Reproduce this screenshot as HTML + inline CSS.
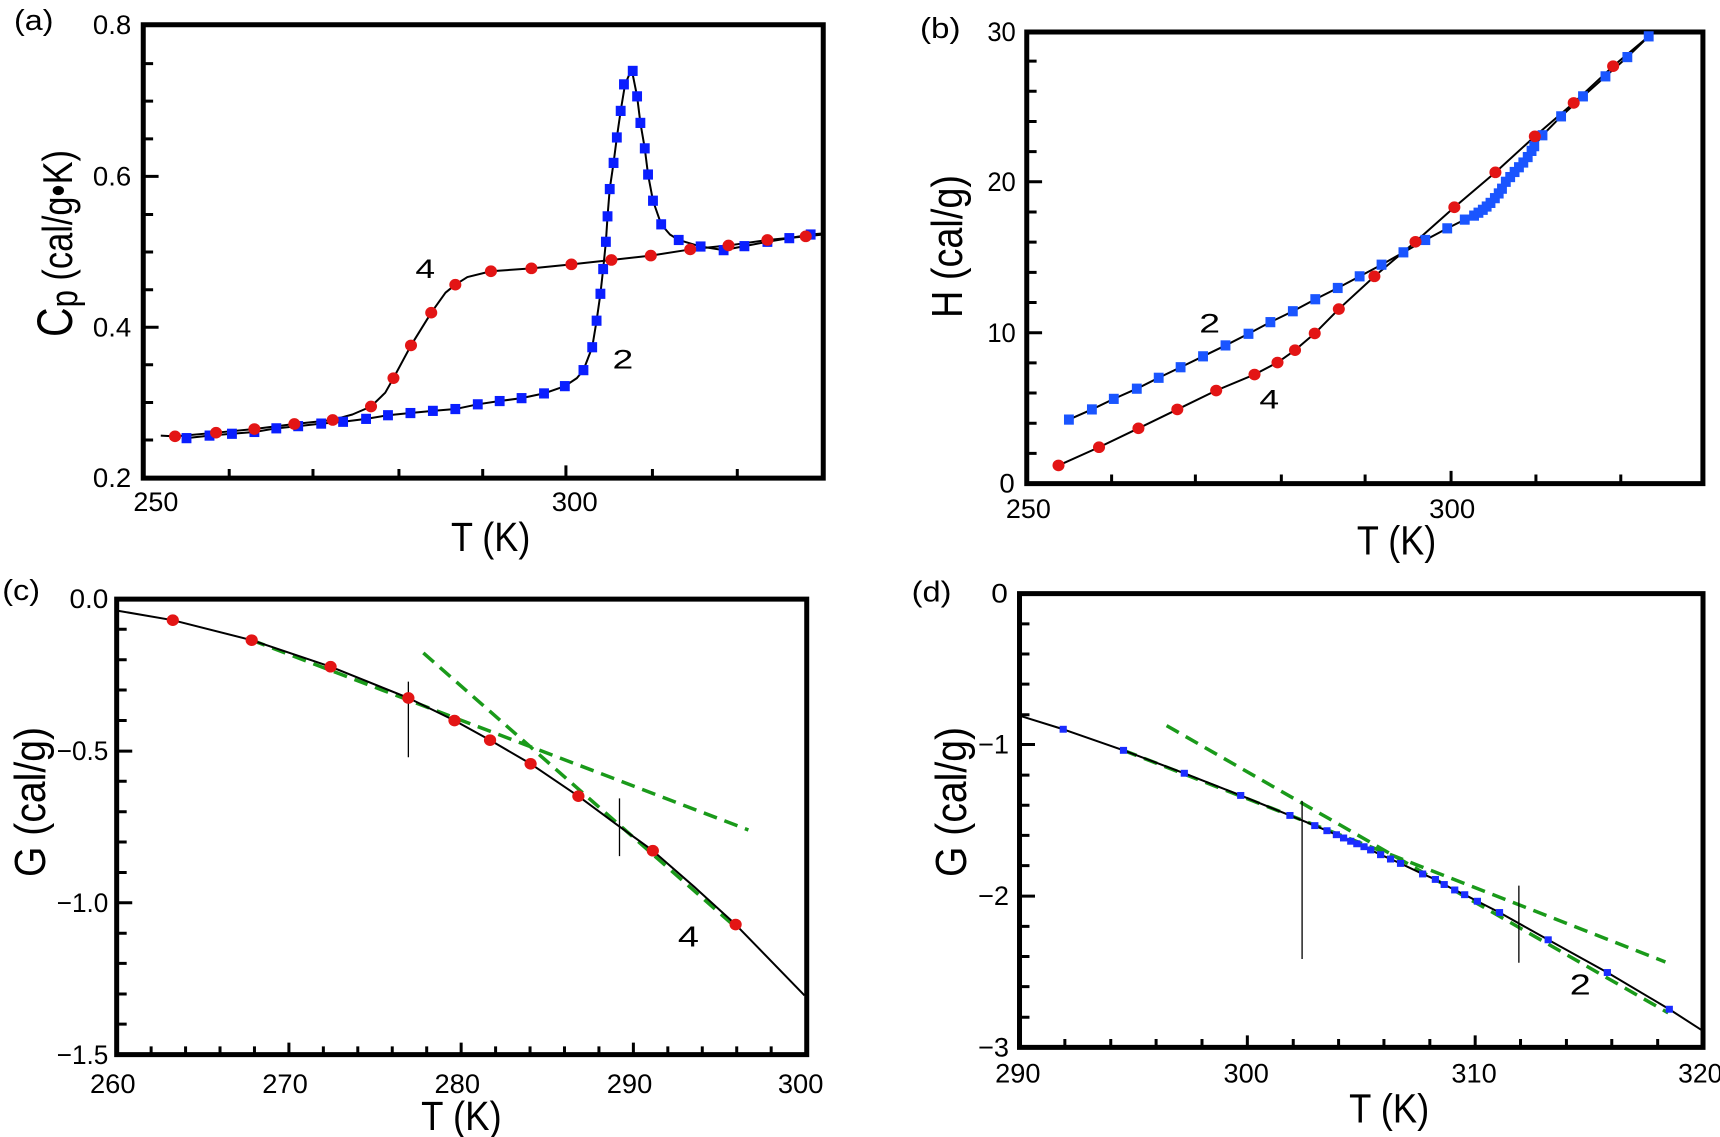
<!DOCTYPE html>
<html><head><meta charset="utf-8"><style>html,body{margin:0;padding:0;background:#fff;overflow:hidden}svg{display:block}text{font-family:"Liberation Sans",Arial,sans-serif;fill:#000}
.f{fill:none;stroke:#000;stroke-width:5px;vector-effect:non-scaling-stroke}
.t{stroke:#000;stroke-width:3px;vector-effect:non-scaling-stroke;fill:none}
.c{fill:none;stroke:#000;stroke-width:2px;vector-effect:non-scaling-stroke;stroke-linejoin:round}
.v{stroke:#000;stroke-width:1.3px;vector-effect:non-scaling-stroke}
.g{fill:none;stroke:#1a9a1a;stroke-width:3.5px;stroke-dasharray:14 8;vector-effect:non-scaling-stroke}
</style></head><body>
<svg width="1720" height="1137" viewBox="0 0 1720 1137" xmlns="http://www.w3.org/2000/svg">
<defs>
<symbol id="sq" overflow="visible"><rect x="-9" y="-14" width="18" height="28"/></symbol>
<symbol id="s2" overflow="visible"><rect x="-6.5" y="-9.5" width="13" height="19"/></symbol>
</defs>

<!-- Panel (a) -->
<g transform="translate(2,0) scale(0.5475,0.3636)">
<rect class="f" x="258" y="68" width="1242" height="1247"/>
<path class="t" d="M258 485H286M258 900H286M258 175H276M258 278H276M258 382H276M258 590H276M258 693H276M258 797H276M258 1003H276M258 1107H276M258 1210H276M415 1315V1290M568 1315V1290M725 1315V1290M878 1315V1290M1030 1315V1280M1188 1315V1290M1343 1315V1290"/>
<g font-size="74">
<text x="166" y="94" textLength="70" lengthAdjust="spacingAndGlyphs">0.8</text>
<text x="166" y="510" textLength="70" lengthAdjust="spacingAndGlyphs">0.6</text>
<text x="166" y="925" textLength="70" lengthAdjust="spacingAndGlyphs">0.4</text>
<text x="166" y="1340" textLength="70" lengthAdjust="spacingAndGlyphs">0.2</text>
<text x="240" y="1405" textLength="82" lengthAdjust="spacingAndGlyphs">250</text>
<text x="1004" y="1405" textLength="84" lengthAdjust="spacingAndGlyphs">300</text>
</g>
<text x="22" y="82" font-size="80" textLength="72" lengthAdjust="spacingAndGlyphs">(a)</text>
<text x="820" y="1515" font-size="112" textLength="145" lengthAdjust="spacingAndGlyphs">T (K)</text>
<text x="755" y="765" font-size="75" textLength="36" lengthAdjust="spacingAndGlyphs">4</text>
<text x="1115" y="1013" font-size="75" textLength="38" lengthAdjust="spacingAndGlyphs">2</text>
<polyline class="c" points="290,1198 316,1200 391,1190 461,1180 534,1166 604,1155 640,1140 674,1118 700,1080 715,1040 747,950 784,860 810,805 828,783 850,762 893,746 967,738 1040,727 1113,715 1185,703 1257,686 1327,675 1398,660 1468,650 1500,645"/>
<polyline class="c" points="337,1205 379,1198 420,1193 461,1188 501,1178 541,1172 583,1165 623,1160 665,1152 705,1142 746,1136 787,1130 828,1125 869,1112 909,1103 949,1095 990,1082 1028,1062 1050,1040 1062,1018 1078,955 1086,882 1093,808 1098,740 1103,665 1106,595 1110,520 1117,448 1123,378 1130,305 1138,232 1150,190 1160,265 1166,338 1174,408 1180,480 1189,552 1204,617 1220,645 1236,660 1276,678 1318,688 1356,677 1398,665 1438,655 1477,645 1500,642"/>
<g fill="#0a1eff">
<use href="#sq" x="337" y="1205"/><use href="#sq" x="379" y="1198"/><use href="#sq" x="420" y="1193"/><use href="#sq" x="461" y="1188"/><use href="#sq" x="501" y="1178"/><use href="#sq" x="541" y="1172"/><use href="#sq" x="583" y="1165"/><use href="#sq" x="623" y="1160"/><use href="#sq" x="665" y="1152"/><use href="#sq" x="705" y="1142"/><use href="#sq" x="746" y="1136"/><use href="#sq" x="787" y="1130"/><use href="#sq" x="828" y="1125"/><use href="#sq" x="869" y="1112"/><use href="#sq" x="909" y="1103"/><use href="#sq" x="949" y="1095"/><use href="#sq" x="990" y="1082"/><use href="#sq" x="1028" y="1062"/><use href="#sq" x="1062" y="1018"/><use href="#sq" x="1078" y="955"/><use href="#sq" x="1086" y="882"/><use href="#sq" x="1093" y="808"/><use href="#sq" x="1098" y="740"/><use href="#sq" x="1103" y="665"/><use href="#sq" x="1106" y="595"/><use href="#sq" x="1110" y="520"/><use href="#sq" x="1117" y="448"/><use href="#sq" x="1123" y="378"/><use href="#sq" x="1130" y="305"/><use href="#sq" x="1136" y="232"/><use href="#sq" x="1152" y="195"/><use href="#sq" x="1160" y="265"/><use href="#sq" x="1166" y="338"/><use href="#sq" x="1174" y="408"/><use href="#sq" x="1180" y="480"/><use href="#sq" x="1189" y="552"/><use href="#sq" x="1204" y="617"/><use href="#sq" x="1236" y="660"/><use href="#sq" x="1276" y="678"/><use href="#sq" x="1318" y="688"/><use href="#sq" x="1356" y="677"/><use href="#sq" x="1398" y="665"/><use href="#sq" x="1438" y="655"/><use href="#sq" x="1477" y="645"/>
</g>
<g fill="#e31515">
<ellipse cx="316" cy="1200" rx="11" ry="16"/><ellipse cx="391" cy="1190" rx="11" ry="16"/><ellipse cx="461" cy="1180" rx="11" ry="16"/><ellipse cx="534" cy="1166" rx="11" ry="16"/><ellipse cx="604" cy="1155" rx="11" ry="16"/><ellipse cx="674" cy="1118" rx="11" ry="16"/><ellipse cx="715" cy="1040" rx="11" ry="16"/><ellipse cx="747" cy="950" rx="11" ry="16"/><ellipse cx="784" cy="860" rx="11" ry="16"/><ellipse cx="828" cy="783" rx="11" ry="16"/><ellipse cx="893" cy="746" rx="11" ry="16"/><ellipse cx="967" cy="738" rx="11" ry="16"/><ellipse cx="1040" cy="727" rx="11" ry="16"/><ellipse cx="1113" cy="715" rx="11" ry="16"/><ellipse cx="1185" cy="703" rx="11" ry="16"/><ellipse cx="1257" cy="686" rx="11" ry="16"/><ellipse cx="1327" cy="675" rx="11" ry="16"/><ellipse cx="1398" cy="660" rx="11" ry="16"/><ellipse cx="1468" cy="650" rx="11" ry="16"/>
</g>
</g>
<text transform="translate(72,337) rotate(-90)" font-size="42" textLength="187" lengthAdjust="spacingAndGlyphs"><tspan font-size="50">C</tspan><tspan font-size="38" dy="5">p</tspan><tspan dy="-5">  (cal/g•K)</tspan></text>

<!-- Panel (b) -->
<g transform="translate(862.5,0) scale(0.5475,0.3636)">
<rect class="f" x="300" y="88" width="1235" height="1242"/>
<path class="t" d="M300 915H328M300 500H328M300 1247H318M300 1164H318M300 1081H318M300 998H318M300 832H318M300 749H318M300 666H318M300 583H318M300 417H318M300 334H318M300 251H318M300 168H318M455 1330V1305M608 1330V1305M765 1330V1305M918 1330V1305M1075 1330V1295M1230 1330V1305M1385 1330V1305"/>
<g font-size="74">
<text x="228" y="113" textLength="52" lengthAdjust="spacingAndGlyphs">30</text>
<text x="228" y="525" textLength="52" lengthAdjust="spacingAndGlyphs">20</text>
<text x="228" y="940" textLength="52" lengthAdjust="spacingAndGlyphs">10</text>
<text x="250" y="1355" textLength="28" lengthAdjust="spacingAndGlyphs">0</text>
<text x="262" y="1425" textLength="82" lengthAdjust="spacingAndGlyphs">250</text>
<text x="1035" y="1425" textLength="84" lengthAdjust="spacingAndGlyphs">300</text>
</g>
<text x="105" y="104" font-size="80" textLength="74" lengthAdjust="spacingAndGlyphs">(b)</text>
<text x="903" y="1525" font-size="112" textLength="145" lengthAdjust="spacingAndGlyphs">T (K)</text>
<text x="615" y="915" font-size="75" textLength="38" lengthAdjust="spacingAndGlyphs">2</text>
<text x="725" y="1123" font-size="75" textLength="36" lengthAdjust="spacingAndGlyphs">4</text>
<polyline class="c" points="358,1280 432,1230 504,1178 575,1126 646,1074 716,1030 758,997 790,963 826,917 870,850 935,760 1010,665 1081,570 1156,474 1228,375 1299,283 1371,182 1440,95"/>
<polyline class="c" points="377,1154 419,1126 459,1097 501,1069 541,1039 581,1010 622,980 663,950 705,918 745,886 786,856 827,823 868,792 908,760 948,728 988,694 1028,660 1068,628 1100,604 1117,593 1125,585 1133,577 1140,568 1147,558 1155,545 1162,532 1168,519 1175,500 1183,487 1191,473 1199,460 1207,447 1215,432 1222,415 1227,402 1242,372 1276,320 1316,265 1357,210 1397,157 1436,100"/>
<g fill="#1a55ff">
<use href="#sq" x="377" y="1154"/><use href="#sq" x="419" y="1126"/><use href="#sq" x="459" y="1097"/><use href="#sq" x="501" y="1069"/><use href="#sq" x="541" y="1039"/><use href="#sq" x="581" y="1010"/><use href="#sq" x="622" y="980"/><use href="#sq" x="663" y="950"/><use href="#sq" x="705" y="918"/><use href="#sq" x="745" y="886"/><use href="#sq" x="786" y="856"/><use href="#sq" x="827" y="823"/><use href="#sq" x="868" y="792"/><use href="#sq" x="908" y="760"/><use href="#sq" x="948" y="728"/><use href="#sq" x="988" y="694"/><use href="#sq" x="1028" y="660"/><use href="#sq" x="1068" y="628"/><use href="#sq" x="1100" y="604"/><use href="#sq" x="1117" y="593"/><use href="#sq" x="1125" y="585"/><use href="#sq" x="1133" y="577"/><use href="#sq" x="1140" y="568"/><use href="#sq" x="1147" y="558"/><use href="#sq" x="1155" y="545"/><use href="#sq" x="1162" y="532"/><use href="#sq" x="1168" y="519"/><use href="#sq" x="1175" y="500"/><use href="#sq" x="1183" y="487"/><use href="#sq" x="1191" y="473"/><use href="#sq" x="1199" y="460"/><use href="#sq" x="1207" y="447"/><use href="#sq" x="1215" y="432"/><use href="#sq" x="1222" y="415"/><use href="#sq" x="1227" y="402"/><use href="#sq" x="1242" y="372"/><use href="#sq" x="1276" y="320"/><use href="#sq" x="1316" y="265"/><use href="#sq" x="1357" y="210"/><use href="#sq" x="1397" y="157"/><use href="#sq" x="1436" y="100"/>
</g>
<g fill="#e31515">
<ellipse cx="358" cy="1280" rx="11" ry="16"/><ellipse cx="432" cy="1230" rx="11" ry="16"/><ellipse cx="504" cy="1178" rx="11" ry="16"/><ellipse cx="575" cy="1126" rx="11" ry="16"/><ellipse cx="646" cy="1074" rx="11" ry="16"/><ellipse cx="716" cy="1030" rx="11" ry="16"/><ellipse cx="758" cy="997" rx="11" ry="16"/><ellipse cx="790" cy="963" rx="11" ry="16"/><ellipse cx="826" cy="917" rx="11" ry="16"/><ellipse cx="870" cy="850" rx="11" ry="16"/><ellipse cx="935" cy="760" rx="11" ry="16"/><ellipse cx="1010" cy="665" rx="11" ry="16"/><ellipse cx="1081" cy="570" rx="11" ry="16"/><ellipse cx="1156" cy="474" rx="11" ry="16"/><ellipse cx="1228" cy="375" rx="11" ry="16"/><ellipse cx="1299" cy="283" rx="11" ry="16"/><ellipse cx="1371" cy="182" rx="11" ry="16"/>
</g>
</g>
<text transform="translate(962,318) rotate(-90)" font-size="44" textLength="143" lengthAdjust="spacingAndGlyphs">H  (cal/g)</text>

<!-- Panel (c) -->
<g transform="translate(0,570) scale(0.5556,0.3636)">
<rect class="f" x="210" y="80" width="1242" height="1253"/>
<path class="t" d="M210 498H238M210 915H238M210 163H228M210 247H228M210 330H228M210 414H228M210 581H228M210 665H228M210 748H228M210 832H228M210 999H228M210 1082H228M210 1166H228M210 1249H228M272 1333V1310M334 1333V1310M396 1333V1310M458 1333V1310M520 1333V1300M582 1333V1310M644 1333V1310M706 1333V1310M768 1333V1310M830 1333V1300M892 1333V1310M954 1333V1310M1016 1333V1310M1078 1333V1310M1140 1333V1300M1202 1333V1310M1264 1333V1310M1326 1333V1310M1388 1333V1310"/>
<g font-size="74">
<text x="125" y="105" textLength="70" lengthAdjust="spacingAndGlyphs">0.0</text>
<text x="102" y="523" textLength="93" lengthAdjust="spacingAndGlyphs">−0.5</text>
<text x="102" y="940" textLength="93" lengthAdjust="spacingAndGlyphs">−1.0</text>
<text x="102" y="1358" textLength="93" lengthAdjust="spacingAndGlyphs">−1.5</text>
<text x="162" y="1438" textLength="82" lengthAdjust="spacingAndGlyphs">260</text>
<text x="472" y="1438" textLength="82" lengthAdjust="spacingAndGlyphs">270</text>
<text x="782" y="1438" textLength="82" lengthAdjust="spacingAndGlyphs">280</text>
<text x="1092" y="1438" textLength="82" lengthAdjust="spacingAndGlyphs">290</text>
<text x="1400" y="1438" textLength="82" lengthAdjust="spacingAndGlyphs">300</text>
</g>
<text x="4" y="82" font-size="80" textLength="68" lengthAdjust="spacingAndGlyphs">(c)</text>
<text x="758" y="1540" font-size="112" textLength="145" lengthAdjust="spacingAndGlyphs">T (K)</text>
<text x="1220" y="1035" font-size="80" textLength="38" lengthAdjust="spacingAndGlyphs">4</text>
<path class="g" d="M453 193L1347 715M762 228L1315 970"/>
<path class="v" d="M735 307V515M1115 628V787"/>
<polyline class="c" points="212,112 311,138 453,193 595,266 735,352 818,414 882,468 955,533 1041,622 1110,700 1175,772 1250,872 1324,975 1448,1170"/>
<g fill="#e31515">
<ellipse cx="311" cy="138" rx="11" ry="16"/><ellipse cx="453" cy="193" rx="11" ry="16"/><ellipse cx="595" cy="266" rx="11" ry="16"/><ellipse cx="735" cy="352" rx="11" ry="16"/><ellipse cx="818" cy="414" rx="11" ry="16"/><ellipse cx="882" cy="468" rx="11" ry="16"/><ellipse cx="955" cy="533" rx="11" ry="16"/><ellipse cx="1041" cy="622" rx="11" ry="16"/><ellipse cx="1175" cy="772" rx="11" ry="16"/><ellipse cx="1324" cy="975" rx="11" ry="16"/>
</g>
</g>
<text transform="translate(45,877) rotate(-90)" font-size="44" textLength="150" lengthAdjust="spacingAndGlyphs">G  (cal/g)</text>

<!-- Panel (d) -->
<g transform="translate(860.8,570) scale(0.553,0.3636)">
<rect class="f" x="287" y="65" width="1236" height="1248"/>
<path class="t" d="M287 480H315M287 897H315M287 148H305M287 231H305M287 314H305M287 398H305M287 564H305M287 647H305M287 730H305M287 813H305M287 980H305M287 1063H305M287 1146H305M287 1230H305M369 1313V1290M452 1313V1290M534 1313V1290M617 1313V1290M699 1313V1280M782 1313V1290M864 1313V1290M946 1313V1290M1029 1313V1290M1111 1313V1280M1193 1313V1290M1276 1313V1290M1358 1313V1290M1441 1313V1290"/>
<g font-size="74">
<text x="236" y="90" textLength="30" lengthAdjust="spacingAndGlyphs">0</text>
<text x="212" y="505" textLength="56" lengthAdjust="spacingAndGlyphs">−1</text>
<text x="212" y="922" textLength="56" lengthAdjust="spacingAndGlyphs">−2</text>
<text x="212" y="1338" textLength="56" lengthAdjust="spacingAndGlyphs">−3</text>
<text x="243" y="1410" textLength="82" lengthAdjust="spacingAndGlyphs">290</text>
<text x="656" y="1410" textLength="82" lengthAdjust="spacingAndGlyphs">300</text>
<text x="1068" y="1410" textLength="82" lengthAdjust="spacingAndGlyphs">310</text>
<text x="1478" y="1410" textLength="80" lengthAdjust="spacingAndGlyphs">320</text>
</g>
<text x="92" y="87" font-size="80" textLength="72" lengthAdjust="spacingAndGlyphs">(d)</text>
<text x="883" y="1520" font-size="112" textLength="145" lengthAdjust="spacingAndGlyphs">T (K)</text>
<text x="1282" y="1168" font-size="80" textLength="38" lengthAdjust="spacingAndGlyphs">2</text>
<path class="g" d="M475 496L1455 1078M553 428L1460 1218"/>
<path class="v" d="M798 635V1070M1190 868V1080"/>
<polyline class="c" points="290,402 366,438 475,496 585,559 687,620 776,675 821,703 843,717 860,728 873,737 886,746 897,753 910,761 922,770 940,783 958,795 976,807 1016,836 1039,851 1055,865 1074,880 1092,893 1115,911 1155,942 1243,1017 1350,1107 1462,1208 1520,1265"/>
<g fill="#1a2cff">
<use href="#s2" x="366" y="438"/><use href="#s2" x="475" y="496"/><use href="#s2" x="585" y="559"/><use href="#s2" x="687" y="620"/><use href="#s2" x="776" y="675"/><use href="#s2" x="821" y="703"/><use href="#s2" x="843" y="717"/><use href="#s2" x="860" y="728"/><use href="#s2" x="873" y="737"/><use href="#s2" x="886" y="746"/><use href="#s2" x="897" y="753"/><use href="#s2" x="910" y="761"/><use href="#s2" x="922" y="770"/><use href="#s2" x="940" y="783"/><use href="#s2" x="958" y="795"/><use href="#s2" x="976" y="807"/><use href="#s2" x="1016" y="836"/><use href="#s2" x="1039" y="851"/><use href="#s2" x="1055" y="865"/><use href="#s2" x="1074" y="880"/><use href="#s2" x="1092" y="893"/><use href="#s2" x="1115" y="911"/><use href="#s2" x="1155" y="942"/><use href="#s2" x="1243" y="1017"/><use href="#s2" x="1350" y="1107"/><use href="#s2" x="1462" y="1208"/>
</g>
</g>
<text transform="translate(966,877) rotate(-90)" font-size="44" textLength="150" lengthAdjust="spacingAndGlyphs">G  (cal/g)</text>
</svg>
</body></html>
